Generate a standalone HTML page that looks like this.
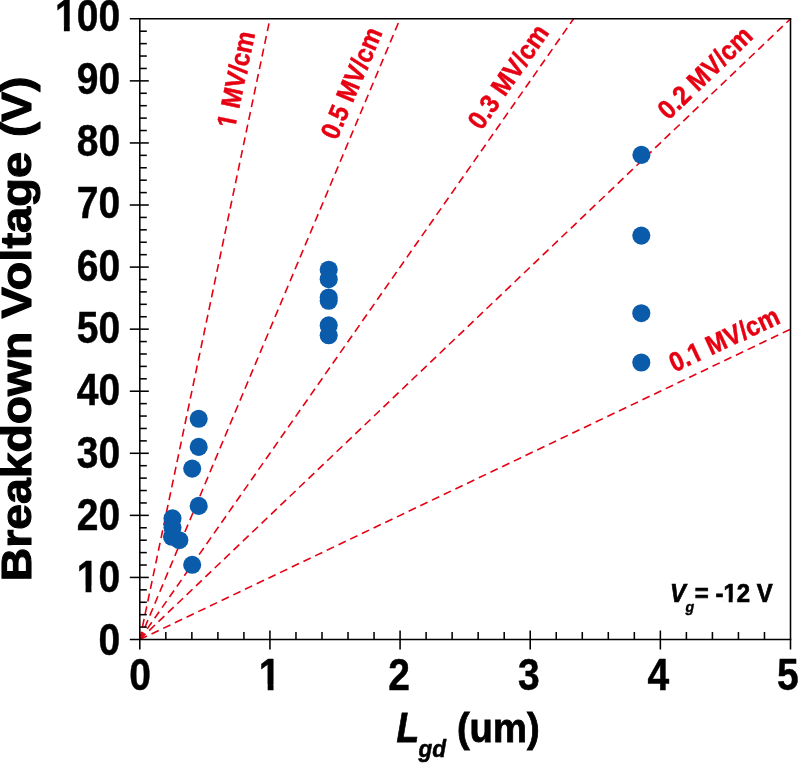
<!DOCTYPE html>
<html><head><meta charset="utf-8"><title>Breakdown Voltage vs Lgd</title>
<style>html,body{margin:0;padding:0;background:#fff;}body{width:798px;height:763px;overflow:hidden;}svg{display:block;}text{font-family:"Liberation Sans",Arial,Helvetica,sans-serif;font-weight:bold;}</style>
</head><body>
<svg width="798" height="763" viewBox="0 0 798 763">
<rect width="798" height="763" fill="#fff"/>
<g stroke="#e60012" stroke-width="1.6" stroke-dasharray="8 4.95" fill="none">
<line x1="139.80" y1="639.50" x2="269.94" y2="18.80"/>
<line x1="139.80" y1="639.50" x2="400.08" y2="18.80"/>
<line x1="139.80" y1="639.50" x2="573.60" y2="18.80"/>
<line x1="139.80" y1="639.50" x2="790.50" y2="18.80"/>
<line x1="139.80" y1="639.50" x2="790.50" y2="329.15"/>
</g>
<g stroke="#000" stroke-width="1.55" fill="none" stroke-linecap="butt">
<line x1="129.8" y1="18.8" x2="791.3" y2="18.8"/>
<line x1="129.8" y1="639.5" x2="791.3" y2="639.5"/>
<line x1="139.8" y1="18.8" x2="139.8" y2="649.5"/>
<line x1="790.5" y1="18.8" x2="790.5" y2="649.5"/>
<line x1="139.8" y1="627.09" x2="146.8" y2="627.09"/>
<line x1="139.8" y1="614.67" x2="146.8" y2="614.67"/>
<line x1="139.8" y1="602.26" x2="146.8" y2="602.26"/>
<line x1="139.8" y1="589.84" x2="146.8" y2="589.84"/>
<line x1="129.8" y1="577.43" x2="148.8" y2="577.43"/>
<line x1="139.8" y1="565.02" x2="146.8" y2="565.02"/>
<line x1="139.8" y1="552.60" x2="146.8" y2="552.60"/>
<line x1="139.8" y1="540.19" x2="146.8" y2="540.19"/>
<line x1="139.8" y1="527.77" x2="146.8" y2="527.77"/>
<line x1="129.8" y1="515.36" x2="148.8" y2="515.36"/>
<line x1="139.8" y1="502.95" x2="146.8" y2="502.95"/>
<line x1="139.8" y1="490.53" x2="146.8" y2="490.53"/>
<line x1="139.8" y1="478.12" x2="146.8" y2="478.12"/>
<line x1="139.8" y1="465.70" x2="146.8" y2="465.70"/>
<line x1="129.8" y1="453.29" x2="148.8" y2="453.29"/>
<line x1="139.8" y1="440.88" x2="146.8" y2="440.88"/>
<line x1="139.8" y1="428.46" x2="146.8" y2="428.46"/>
<line x1="139.8" y1="416.05" x2="146.8" y2="416.05"/>
<line x1="139.8" y1="403.63" x2="146.8" y2="403.63"/>
<line x1="129.8" y1="391.22" x2="148.8" y2="391.22"/>
<line x1="139.8" y1="378.81" x2="146.8" y2="378.81"/>
<line x1="139.8" y1="366.39" x2="146.8" y2="366.39"/>
<line x1="139.8" y1="353.98" x2="146.8" y2="353.98"/>
<line x1="139.8" y1="341.56" x2="146.8" y2="341.56"/>
<line x1="129.8" y1="329.15" x2="148.8" y2="329.15"/>
<line x1="139.8" y1="316.74" x2="146.8" y2="316.74"/>
<line x1="139.8" y1="304.32" x2="146.8" y2="304.32"/>
<line x1="139.8" y1="291.91" x2="146.8" y2="291.91"/>
<line x1="139.8" y1="279.49" x2="146.8" y2="279.49"/>
<line x1="129.8" y1="267.08" x2="148.8" y2="267.08"/>
<line x1="139.8" y1="254.67" x2="146.8" y2="254.67"/>
<line x1="139.8" y1="242.25" x2="146.8" y2="242.25"/>
<line x1="139.8" y1="229.84" x2="146.8" y2="229.84"/>
<line x1="139.8" y1="217.42" x2="146.8" y2="217.42"/>
<line x1="129.8" y1="205.01" x2="148.8" y2="205.01"/>
<line x1="139.8" y1="192.60" x2="146.8" y2="192.60"/>
<line x1="139.8" y1="180.18" x2="146.8" y2="180.18"/>
<line x1="139.8" y1="167.77" x2="146.8" y2="167.77"/>
<line x1="139.8" y1="155.35" x2="146.8" y2="155.35"/>
<line x1="129.8" y1="142.94" x2="148.8" y2="142.94"/>
<line x1="139.8" y1="130.53" x2="146.8" y2="130.53"/>
<line x1="139.8" y1="118.11" x2="146.8" y2="118.11"/>
<line x1="139.8" y1="105.70" x2="146.8" y2="105.70"/>
<line x1="139.8" y1="93.28" x2="146.8" y2="93.28"/>
<line x1="129.8" y1="80.87" x2="148.8" y2="80.87"/>
<line x1="139.8" y1="68.46" x2="146.8" y2="68.46"/>
<line x1="139.8" y1="56.04" x2="146.8" y2="56.04"/>
<line x1="139.8" y1="43.63" x2="146.8" y2="43.63"/>
<line x1="139.8" y1="31.21" x2="146.8" y2="31.21"/>
<line x1="165.83" y1="632.0" x2="165.83" y2="639.5"/>
<line x1="191.86" y1="632.0" x2="191.86" y2="639.5"/>
<line x1="217.88" y1="632.0" x2="217.88" y2="639.5"/>
<line x1="243.91" y1="632.0" x2="243.91" y2="639.5"/>
<line x1="269.94" y1="630.5" x2="269.94" y2="649.5"/>
<line x1="295.97" y1="632.0" x2="295.97" y2="639.5"/>
<line x1="322.00" y1="632.0" x2="322.00" y2="639.5"/>
<line x1="348.02" y1="632.0" x2="348.02" y2="639.5"/>
<line x1="374.05" y1="632.0" x2="374.05" y2="639.5"/>
<line x1="400.08" y1="630.5" x2="400.08" y2="649.5"/>
<line x1="426.11" y1="632.0" x2="426.11" y2="639.5"/>
<line x1="452.14" y1="632.0" x2="452.14" y2="639.5"/>
<line x1="478.16" y1="632.0" x2="478.16" y2="639.5"/>
<line x1="504.19" y1="632.0" x2="504.19" y2="639.5"/>
<line x1="530.22" y1="630.5" x2="530.22" y2="649.5"/>
<line x1="556.25" y1="632.0" x2="556.25" y2="639.5"/>
<line x1="582.28" y1="632.0" x2="582.28" y2="639.5"/>
<line x1="608.30" y1="632.0" x2="608.30" y2="639.5"/>
<line x1="634.33" y1="632.0" x2="634.33" y2="639.5"/>
<line x1="660.36" y1="630.5" x2="660.36" y2="649.5"/>
<line x1="686.39" y1="632.0" x2="686.39" y2="639.5"/>
<line x1="712.42" y1="632.0" x2="712.42" y2="639.5"/>
<line x1="738.44" y1="632.0" x2="738.44" y2="639.5"/>
<line x1="764.47" y1="632.0" x2="764.47" y2="639.5"/>
</g>
<g fill="#0b5bab">
<circle cx="198.7" cy="418.8" r="9.05"/>
<circle cx="198.7" cy="446.9" r="9.05"/>
<circle cx="192.2" cy="468.6" r="9.05"/>
<circle cx="198.7" cy="505.9" r="9.05"/>
<circle cx="172.5" cy="518.4" r="9.05"/>
<circle cx="172.5" cy="527.6" r="9.05"/>
<circle cx="172" cy="536.8" r="9.05"/>
<circle cx="179.3" cy="540.2" r="9.05"/>
<circle cx="192.2" cy="564.8" r="9.05"/>
<circle cx="328.7" cy="269.7" r="9.05"/>
<circle cx="328.7" cy="279.2" r="9.05"/>
<circle cx="328.7" cy="297.5" r="9.05"/>
<circle cx="328.7" cy="300.8" r="9.05"/>
<circle cx="328.7" cy="325.4" r="9.05"/>
<circle cx="328.7" cy="335.3" r="9.05"/>
<circle cx="641.4" cy="154.9" r="9.05"/>
<circle cx="641.3" cy="235.6" r="9.05"/>
<circle cx="641.3" cy="313.2" r="9.05"/>
<circle cx="641.3" cy="362.5" r="9.05"/>
</g>
<text transform="translate(120.1,654.80) scale(0.88,1)" font-size="44.3" text-anchor="end" stroke="#000" stroke-width="0.5">0</text>
<text transform="translate(120.1,592.45) scale(0.88,1)" font-size="44.3" text-anchor="end" stroke="#000" stroke-width="0.5">10</text>
<text transform="translate(120.1,530.10) scale(0.88,1)" font-size="44.3" text-anchor="end" stroke="#000" stroke-width="0.5">20</text>
<text transform="translate(120.1,467.75) scale(0.88,1)" font-size="44.3" text-anchor="end" stroke="#000" stroke-width="0.5">30</text>
<text transform="translate(120.1,405.40) scale(0.88,1)" font-size="44.3" text-anchor="end" stroke="#000" stroke-width="0.5">40</text>
<text transform="translate(120.1,343.05) scale(0.88,1)" font-size="44.3" text-anchor="end" stroke="#000" stroke-width="0.5">50</text>
<text transform="translate(120.1,280.70) scale(0.88,1)" font-size="44.3" text-anchor="end" stroke="#000" stroke-width="0.5">60</text>
<text transform="translate(120.1,218.35) scale(0.88,1)" font-size="44.3" text-anchor="end" stroke="#000" stroke-width="0.5">70</text>
<text transform="translate(120.1,156.00) scale(0.88,1)" font-size="44.3" text-anchor="end" stroke="#000" stroke-width="0.5">80</text>
<text transform="translate(120.1,93.65) scale(0.88,1)" font-size="44.3" text-anchor="end" stroke="#000" stroke-width="0.5">90</text>
<text transform="translate(120.1,31.30) scale(0.88,1)" font-size="44.3" text-anchor="end" stroke="#000" stroke-width="0.5">100</text>
<text transform="translate(140.10,690.3) scale(0.88,1)" font-size="44.3" text-anchor="middle" stroke="#000" stroke-width="0.5">0</text>
<text transform="translate(269.65,690.3) scale(0.88,1)" font-size="44.3" text-anchor="middle" stroke="#000" stroke-width="0.5">1</text>
<text transform="translate(399.20,690.3) scale(0.88,1)" font-size="44.3" text-anchor="middle" stroke="#000" stroke-width="0.5">2</text>
<text transform="translate(528.75,690.3) scale(0.88,1)" font-size="44.3" text-anchor="middle" stroke="#000" stroke-width="0.5">3</text>
<text transform="translate(658.30,690.3) scale(0.88,1)" font-size="44.3" text-anchor="middle" stroke="#000" stroke-width="0.5">4</text>
<text transform="translate(787.85,690.3) scale(0.88,1)" font-size="44.3" text-anchor="middle" stroke="#000" stroke-width="0.5">5</text>
<rect x="56.71" y="25.38" width="7.19" height="7.4" fill="#fff"/>
<rect x="69.75" y="25.38" width="6.70" height="7.4" fill="#fff"/>
<rect x="78.39" y="586.53" width="7.19" height="7.4" fill="#fff"/>
<rect x="91.44" y="586.53" width="6.70" height="7.4" fill="#fff"/>
<rect x="260.47" y="684.38" width="7.19" height="7.4" fill="#fff"/>
<rect x="273.51" y="684.38" width="6.70" height="7.4" fill="#fff"/>
<text transform="translate(31.45,581.3) rotate(-90) scale(1.0778,1)" font-size="43" text-anchor="start" stroke="#000" stroke-width="1.1" stroke-linejoin="round">Breakdown</text>
<text transform="translate(31.45,318.4) rotate(-90) scale(1.0959,1)" font-size="43" text-anchor="start" stroke="#000" stroke-width="1.1" stroke-linejoin="round">Voltage</text>
<text transform="translate(31.45,137.1) rotate(-90) scale(1.0556,1)" font-size="43" text-anchor="start" stroke="#000" stroke-width="1.1" stroke-linejoin="round">(V)</text>
<text transform="translate(396.6,742.4) scale(0.871,1)" font-size="42.6" font-style="italic" stroke="#000" stroke-width="0.8">L</text>
<text transform="translate(418.4,756.6) scale(0.95,1)" font-size="23.8" font-style="italic" stroke="#000" stroke-width="0.5">gd</text>
<text transform="translate(456.9,742.4) scale(0.948,1)" font-size="40.3" stroke="#000" stroke-width="0.8">(um)</text>
<text transform="translate(234.75,129.2) rotate(-78) scale(0.894,1)" font-size="27" fill="#e60012" stroke="#e60012" stroke-width="0.5" text-anchor="start">1 MV/cm</text>
<g transform="translate(234.75,129.2) rotate(-78) scale(0.894,1)" fill="#fff"><rect x="0.95" y="-3.51" width="5.10" height="4.26"/><rect x="10.26" y="-3.51" width="4.76" height="4.26"/></g>
<text transform="translate(336.9,140.9) rotate(-67) scale(0.894,1)" font-size="27" fill="#e60012" stroke="#e60012" stroke-width="0.5" text-anchor="start">0.5 MV/cm</text>
<text transform="translate(481.6,131.2) rotate(-55.3) scale(0.908,1)" font-size="27" fill="#e60012" stroke="#e60012" stroke-width="0.5" text-anchor="start">0.3 MV/cm</text>
<text transform="translate(668.6,120.8) rotate(-44.2) scale(0.905,1)" font-size="27" fill="#e60012" stroke="#e60012" stroke-width="0.5" text-anchor="start">0.2 MV/cm</text>
<text transform="translate(674.6,372.5) rotate(-24.9) scale(0.894,1)" font-size="27" fill="#e60012" stroke="#e60012" stroke-width="0.5" text-anchor="start">0.1 MV/cm</text>
<g transform="translate(674.6,372.5) rotate(-24.9) scale(0.894,1)" fill="#fff"><rect x="23.47" y="-3.51" width="5.10" height="4.26"/><rect x="32.77" y="-3.51" width="4.76" height="4.26"/></g>
<text transform="translate(670,602.1) scale(0.933,1)" font-size="25.4" font-style="italic" stroke="#000" stroke-width="0.7">V</text>
<text transform="translate(685.5,611.7) scale(0.95,1)" font-size="15" font-style="italic" stroke="#000" stroke-width="0.4">g</text>
<text transform="translate(694.8,602.1) scale(0.943,1)" font-size="25.4" stroke="#000" stroke-width="0.7">= -12 V</text>
<g transform="translate(694.8,602.1) scale(0.943,1)" fill="#fff"><rect x="31.10" y="-3.44" width="4.83" height="4.29"/><rect x="40.11" y="-3.44" width="4.51" height="4.29"/></g>
</svg>
</body></html>
